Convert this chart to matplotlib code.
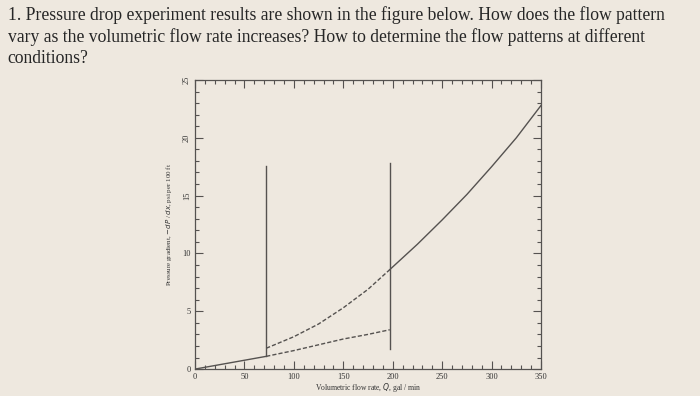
import matplotlib.pyplot as plt
from matplotlib.ticker import MultipleLocator

# values
question = ("1. Pressure drop experiment results are shown in the figure below. How does the flow pattern\n"
            "vary as the volumetric flow rate increases? How to determine the flow patterns at different\n"
            "conditions?")

low_solid_q = [0, 72]
low_solid_dp = [0, 1.1]
low_dash_q = [72, 100, 125, 150, 175, 197]
low_dash_dp = [1.1, 1.6, 2.1, 2.6, 3.0, 3.4]
up_dash_q = [72, 100, 125, 150, 175, 197]
up_dash_dp = [1.8, 2.8, 3.9, 5.3, 6.9, 8.6]
up_solid_q = [197, 225, 250, 275, 300, 325, 350]
up_solid_dp = [8.6, 10.8, 12.9, 15.1, 17.5, 20.0, 22.8]
trans_q = [72, 197]
trans_bottom = [1.1, 1.7]
trans_top = [17.6, 17.8]

xticks = [0, 50, 100, 150, 200, 250, 300, 350]
yticks = [0, 5, 10, 15, 20, 25]

bg = '#eee8df'
ink = '#555250'

plt.rcParams['font.family'] = ['Liberation Serif', 'DejaVu Serif']

fig = plt.figure(figsize=(7, 3.96), dpi=100, facecolor=bg)
fig.text(0.011, 0.985, question, ha='left', va='top', fontsize=12.7,
         color='#262626', linespacing=1.3)

ax = fig.add_axes([0.2786, 0.068, 0.4943, 0.73])
ax.set_facecolor(bg)

ax.plot(low_solid_q, low_solid_dp, color=ink, lw=1.0)
ax.plot(low_dash_q, low_dash_dp, color=ink, lw=1.0, ls=(0, (3, 1.5)))
ax.plot(up_dash_q, up_dash_dp, color=ink, lw=1.0, ls=(0, (3, 1.5)))
ax.plot(up_solid_q, up_solid_dp, color=ink, lw=1.0)
for q, b, t in zip(trans_q, trans_bottom, trans_top):
    ax.plot([q, q], [b, t], color=ink, lw=1.0)

ax.set_xlim(0, 350)
ax.set_ylim(0, 25)
ax.xaxis.set_major_locator(MultipleLocator(50))
ax.xaxis.set_minor_locator(MultipleLocator(10))
ax.yaxis.set_major_locator(MultipleLocator(5))
ax.yaxis.set_minor_locator(MultipleLocator(1))
ax.tick_params(which='both', direction='in', top=True, right=True,
               color=ink, width=0.8, labelsize=6, labelcolor='#333333', pad=3)
ax.tick_params(which='major', length=6)
ax.tick_params(which='minor', length=3)
ax.set_xticks(xticks)
ax.set_yticks(yticks)
for lab in ax.get_yticklabels():
    if lab.get_text() in ('15', '20', '25'):
        lab.set_rotation(90)
        lab.set_va('center')
for s in ax.spines.values():
    s.set_color(ink)
    s.set_linewidth(0.9)

ax.set_xlabel('Volumetric flow rate, $Q$, gal / min', fontsize=5.5,
              color='#333333', labelpad=0)
ax.set_ylabel('Pressure gradient, $-dP$ / $dx$, psi per 100 ft', fontsize=5,
              color='#333333', labelpad=6)

fig.savefig('out.png', dpi=100, facecolor=bg)
